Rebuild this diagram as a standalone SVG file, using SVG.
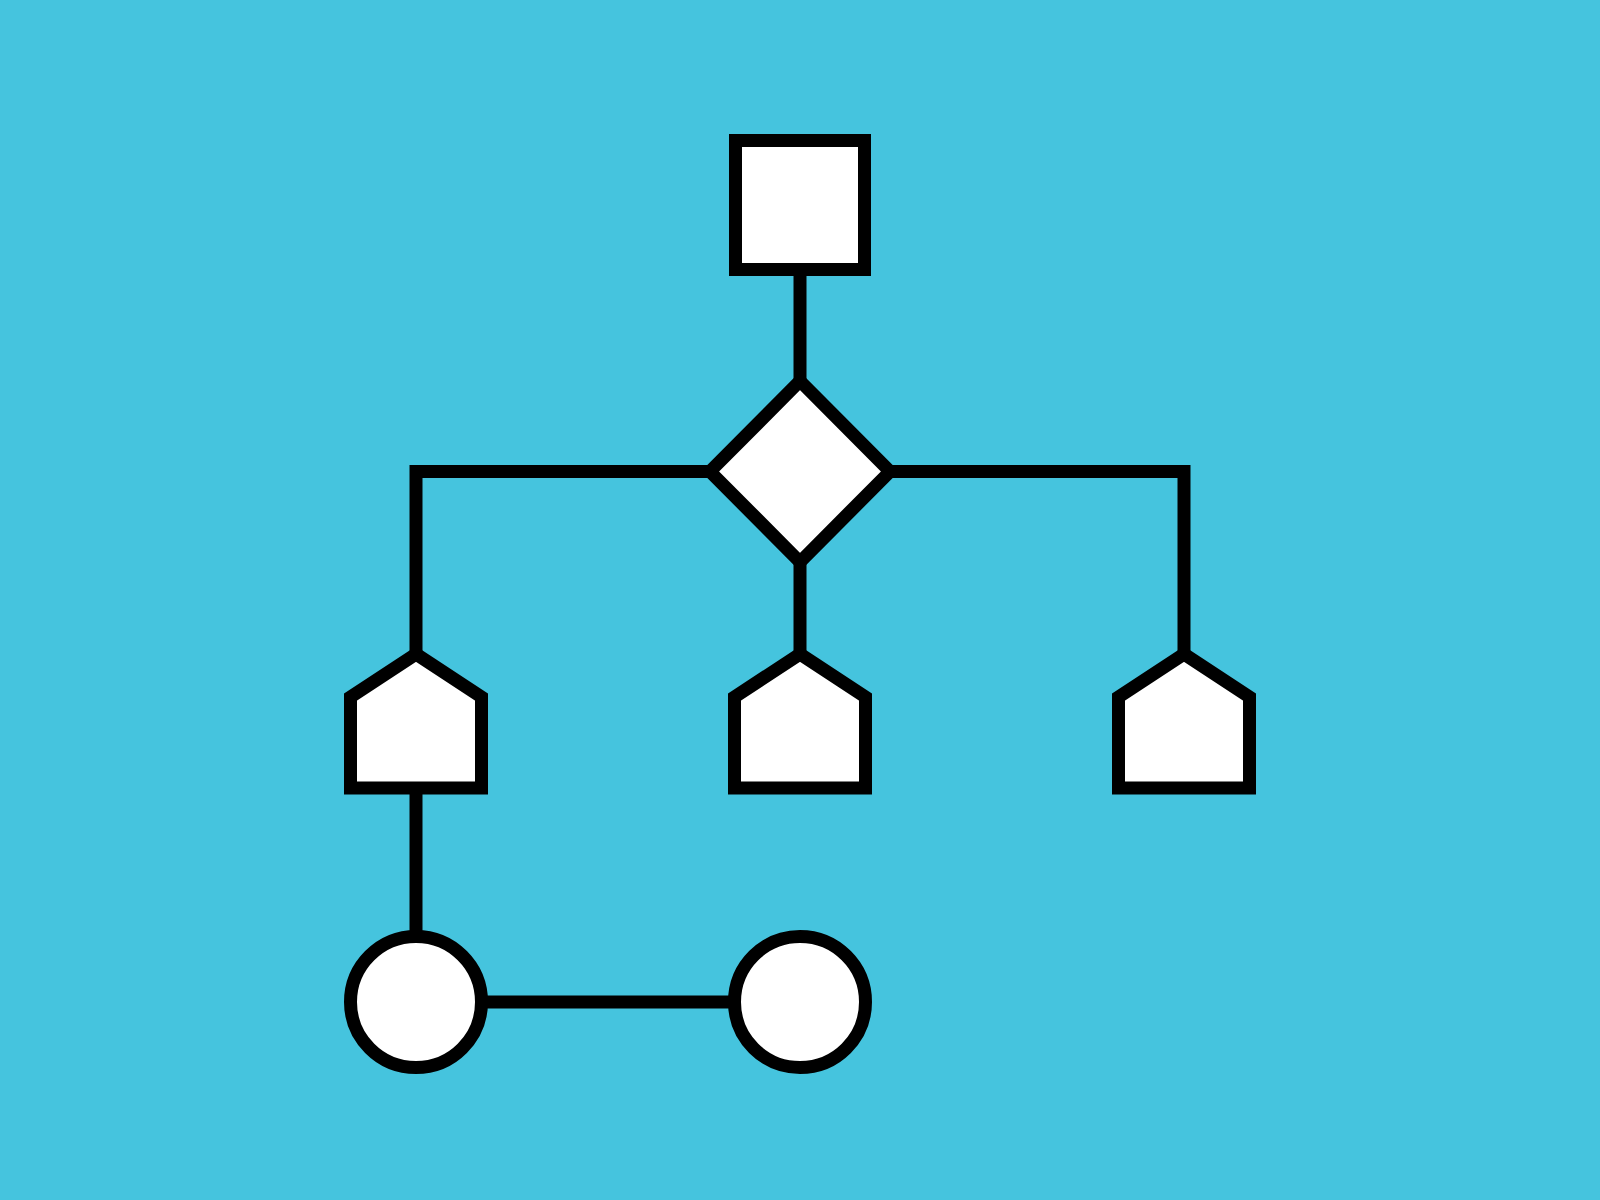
<svg xmlns="http://www.w3.org/2000/svg" width="1600" height="1200" viewBox="0 0 1600 1200">
<style>
.bg{fill:#45C4DE}
.node{fill:#FFFFFF;stroke:#000000;stroke-width:13;stroke-linejoin:miter;stroke-miterlimit:10}
.edge{fill:none;stroke:#000000;stroke-width:13;stroke-linejoin:miter}
</style>
<rect class="bg" x="0" y="0" width="1600" height="1200"/>
<g id="connectors">
<line class="edge" x1="800" y1="205" x2="800" y2="471.5"/>
<polyline class="edge" points="800,471.5 416,471.5 416,720"/>
<polyline class="edge" points="800,471.5 1184,471.5 1184,720"/>
<line class="edge" x1="800" y1="471.5" x2="800" y2="720"/>
<line class="edge" x1="416" y1="720" x2="416" y2="1002"/>
<line class="edge" x1="416" y1="1002" x2="800" y2="1002"/>
</g>
<g id="node-start">
<rect class="node" x="735.5" y="140.5" width="129" height="129"/>
</g>
<g id="node-decision">
<polygon class="node" points="800,381 890,471.5 800,562 710,471.5"/>
</g>
<g id="node-left">
<polygon class="node" points="416,654 481.5,697 481.5,788 350.5,788 350.5,697"/>
</g>
<g id="node-middle">
<polygon class="node" points="800,654 865.5,697 865.5,788 734.5,788 734.5,697"/>
</g>
<g id="node-right">
<polygon class="node" points="1184,654 1249.5,697 1249.5,788 1118.5,788 1118.5,697"/>
</g>
<g id="node-circle-left">
<circle class="node" cx="416" cy="1002" r="65.5"/>
</g>
<g id="node-circle-right">
<circle class="node" cx="800" cy="1002" r="65.5"/>
</g>
</svg>
